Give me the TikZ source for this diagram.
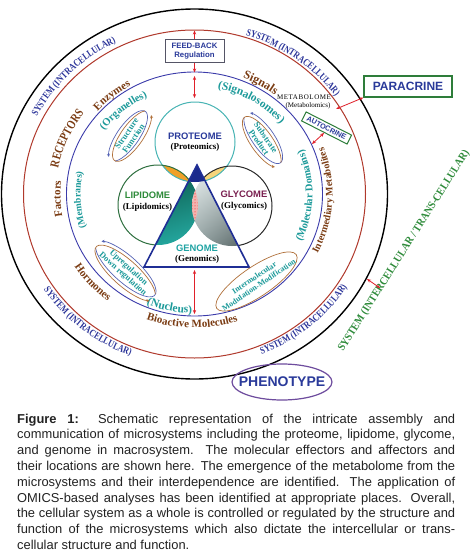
\documentclass[tikz,border=0pt]{standalone}
\usepackage{fontspec}
\setmainfont{Liberation Serif}
\newfontfamily\cser[FakeStretch=0.8]{Liberation Serif Bold}
\newfontfamily\gser[FakeStretch=0.9]{Liberation Serif Bold}
\newfontfamily\sanf{Liberation Sans}
\newfontfamily\metaf[LetterSpace=8]{Liberation Serif}
\usetikzlibrary{decorations.text,patterns,arrows.meta,calc,shadings}
\definecolor{sysblue}{HTML}{2B3499}
\definecolor{brownt}{HTML}{7A3B12}
\definecolor{tealt}{HTML}{1C9A9A}
\definecolor{navyt}{HTML}{2A3A9A}
\definecolor{redc}{HTML}{B0392C}
\definecolor{bluec}{HTML}{3B3BAA}
\definecolor{arrowred}{HTML}{E0202A}
\definecolor{greent}{HTML}{2E8B3A}
\definecolor{greenb}{HTML}{2E7D3A}
\definecolor{purp}{HTML}{6E4C9E}
\definecolor{protc}{HTML}{48B4B4}
\definecolor{lipc}{HTML}{2F7040}
\definecolor{glyc}{HTML}{2A2A2A}
\definecolor{trib}{HTML}{1F2E95}
\definecolor{lipt}{HTML}{2E8B3A}
\definecolor{glyt}{HTML}{7A2050}
\definecolor{genc}{HTML}{1FA3A3}
\definecolor{orangef}{HTML}{F0A028}
\definecolor{yellowf}{HTML}{F6D47A}
\definecolor{pinkf}{HTML}{F2B4B0}
\definecolor{navyf}{HTML}{1B2A8C}
\definecolor{capc}{HTML}{222222}
\definecolor{cycb}{HTML}{5563B5}
\definecolor{cycr}{HTML}{B0703A}
\definecolor{fbc}{HTML}{555566}
\definecolor{tUL}{HTML}{084637}
\definecolor{tUR}{HTML}{0C5F50}
\definecolor{tLL}{HTML}{1C968E}
\definecolor{tLR}{HTML}{28B0A8}
\definecolor{gUL}{HTML}{F0F6F6}
\definecolor{gUR}{HTML}{BECDCD}
\definecolor{gLL}{HTML}{96A5A5}
\definecolor{gLR}{HTML}{374444}

\newcommand\fSys{\color{sysblue}\cser\fontsize{10}{10}\selectfont}
\newcommand\fRec{\color{brownt}\cser\fontsize{12.5}{13}\selectfont}
\newcommand\fBr{\color{brownt}\bfseries\fontsize{11}{12}\selectfont}
\newcommand\fBrL{\color{brownt}\bfseries\fontsize{12}{13}\selectfont}
\newcommand\fBrS{\color{brownt}\bfseries\fontsize{10}{11}\selectfont}
\newcommand\fTe{\color{tealt}\bfseries\fontsize{10.5}{11}\selectfont}
\newcommand\fTeS{\color{tealt}\bfseries\fontsize{9.7}{10}\selectfont}
\newcommand\fTeL{\color{tealt}\bfseries\fontsize{11.5}{12}\selectfont}

\newcommand\arclab[5]{%
 \pgfmathsetmacro\ryy{0.955*#2}%
 \path[decorate,decoration={text along path,text align=center,text={|#1|#5}}]
  ($(C)+(#3:#2 and \ryy)$) arc[start angle=#3,end angle=#4,x radius=#2,y radius=\ryy];}

\newcommand\cyc[9]{%
 \begin{scope}[shift={(#2,-#3)},rotate=#4]
  \draw[cycb,line width=0.7,-{Stealth[length=3pt,width=3pt]}] ($(-1,1.6)+(200:#5 and #6)$) arc[start angle=200,end angle=520,x radius=#5,y radius=#6];
  \draw[cycr,line width=0.7,-{Stealth[length=3pt,width=3pt]}] ($(1,-1.6)+(20:#5 and #6)$) arc[start angle=20,end angle=340,x radius=#5,y radius=#6];
 \end{scope}
 \node[rotate=#4,align=center,inner sep=0,text=tealt,font=\bfseries\fontsize{#9}{#9}\selectfont] (#1) at (#2,-#3) {#7\\#8};}

\newcommand\jl[1]{\hbox to 438pt{#1}}

\tikzset{
 captext/.style={anchor=base west,inner sep=0,text=capc,font=\sanf\fontsize{12.9}{15}\selectfont},
 rarr/.style={arrowred,line width=0.8,{Stealth[length=4pt,width=3.2pt]}-{Stealth[length=4pt,width=3.2pt]}},
 rarrone/.style={arrowred,line width=0.8,-{Stealth[length=4pt,width=3.2pt]}},
 omic/.style={inner sep=0,font=\sanf\bfseries\fontsize{9.4}{10}\selectfont},
 omicx/.style={inner sep=0,font=\bfseries\fontsize{9}{10}\selectfont},
}

\begin{document}
\begin{tikzpicture}[x=1pt,y=1pt]
\useasboundingbox (0,0) rectangle (474,-557);
\fill[white] (0,0) rectangle (474,-557);
\coordinate (C) at (194.5,-194);

% concentric circles
\draw[black,line width=1.4] (C) ellipse [x radius=193,y radius=185];
\draw[redc,line width=1] (C) ellipse [x radius=171,y radius=164];
\draw[bluec,line width=0.9] (C) ellipse [x radius=128,y radius=122];

% central omics circles
\coordinate (P) at (195,-142);
\coordinate (L) at (158,-205);
\coordinate (G) at (232,-206);
\coordinate (A) at (197,-165);
\coordinate (B) at (144,-267);
\coordinate (D) at (249,-267);

\begin{scope}
 \clip (P) circle[radius=40];
 \fill[orangef] (L) circle[radius=40];
 \fill[yellowf] (G) circle[radius=40];
\end{scope}
\draw[protc,line width=1] (P) circle[radius=40];
\draw[lipc,line width=1] (L) circle[radius=40];
\draw[glyc,line width=1] (G) circle[radius=40];

\begin{scope}
 \clip (A)--(B)--(D)--cycle;
 \fill[white] (A)--(B)--(D)--cycle;
 \shade[upper left=tUL,upper right=tUR,lower left=tLL,lower right=tLR] (L) circle[radius=40];
 \shade[upper left=gUL,upper right=gUR,lower left=gLL,lower right=gLR] (G) circle[radius=40];
 \fill[navyf] (P) circle[radius=40];
 \begin{scope}
  \clip (L) circle[radius=40];
  \fill[pinkf] (G) circle[radius=40];
  \fill[pattern=dots,pattern color=red] (G) circle[radius=40];
 \end{scope}
\end{scope}
\draw[trib,line width=1.6] (A)--(B)--(D)--cycle;

\node[omic,text=navyt] (prot) at (195,-136) {PROTEOME};
\node[omicx] (protx) at (195,-147) {(Proteomics)};
\node[omic,text=lipt] (lip) at (147.5,-195) {LIPIDOME};
\node[omicx] (lipx) at (147.5,-207) {(Lipidomics)};
\node[omic,text=glyt] (gly) at (244,-194) {GLYCOME};
\node[omicx] (glyx) at (244,-206) {(Glycomics)};
\node[omic,text=genc] (gen) at (197,-248) {GENOME};
\node[omicx] (genx) at (197,-259.5) {(Genomics)};

% arc labels
\arclab{\fSys}{177}{175}{95}{SYSTEM (INTRACELLULAR)}
\arclab{\fSys}{174}{94}{14}{SYSTEM (INTRACELLULAR)}
\arclab{\fSys}{181}{191}{271}{SYSTEM (INTRACELLULAR)}
\arclab{\fSys}{181}{270}{350}{SYSTEM (INTRACELLULAR)}
\arclab{\fRec}{139}{196}{116}{RECEPTORS}
\arclab{\fBr}{134}{212}{152}{Factors}
\arclab{\fTeS}{114}{213}{153}{(Membranes)}
\arclab{\fBr}{130}{159}{99}{Enzymes}
\arclab{\fTe}{112}{160}{99}{(Organelles)}
\arclab{\fBrL}{131}{90}{30}{Signals}
\arclab{\fTeL}{113}{99}{19}{(Signalosomes)}
\arclab{\fBr}{142}{192}{252}{Hormones}
\arclab{\fTeL}{125}{228}{288}{(Nucleus)}
\arclab{\fBr}{140}{229}{309}{Bioactive Molecules}
\arclab{\fTe}{118}{-41}{39}{(Molecular Domains)}
\arclab{\fBrS}{138}{-43}{37}{Intermediary Metabolites}

% metabolome
\node[inner sep=0,font=\metaf\fontsize{7}{8}\selectfont] (meta) at (304,-97) {METABOLOME};
\node[inner sep=0,font=\fontsize{7}{8}\selectfont] (metax) at (308,-106) {(Metabolomics)};

% cycles
\cyc{sf}{130}{136}{55}{30}{11}{Structure}{Function}{8.5}
\cyc{sp}{262.5}{140}{-55}{30}{11}{Substrate}{Product}{8.5}
\cyc{ud}{125.5}{271}{-42}{39}{13}{Upregulation}{Down regulation}{8.5}
\draw[cycr,line width=0.7,rotate around={34:(256.5,-281.5)}] (256.5,-281.5) ellipse [x radius=48,y radius=15];
\node[rotate=34,align=center,inner sep=0,text=tealt,font=\bfseries\fontsize{8}{8.5}\selectfont] (im) at (256.5,-281.5) {Intermolecular\\Modulation-Modification};

% boxes
\node[draw=fbc,line width=0.8,fill=white,minimum width=59,minimum height=23.4,inner sep=0,align=center,
      text=navyt,font=\sanf\bfseries\fontsize{7.8}{9}\selectfont] (fb) at (194.5,-51) {FEED-BACK\\Regulation};
\node[draw=greenb,line width=1.2,fill=white,minimum width=88,minimum height=21,inner sep=0,
      text=navyt,font=\sanf\bfseries\fontsize{12}{13}\selectfont] (par) at (408,-86.5) {PARACRINE};
\node[draw=greenb,line width=1,fill=white,rotate=-27,minimum width=51,minimum height=10,inner sep=0,
      text=navyt,font=\sanf\bfseries\fontsize{7.3}{8}\selectfont] (auto) at (326.6,-128) {AUTOCRINE};
\node[inner sep=0,text=navyt,font=\sanf\bfseries\fontsize{14}{15}\selectfont] (ph) at (282,-382) {PHENOTYPE};
\draw[purp,line width=1.2] (ph.center) ellipse [x radius=50,y radius=18];
\node[inner sep=0,rotate=57.6,text=greent,font=\gser\fontsize{11}{12}\selectfont] (inter) at (404,-251) {SYSTEM (INTERCELLULAR / TRANS-CELLULAR)};

% red arrows
\coordinate (redtop) at (194.5,-30.5);
\coordinate (bluetop) at (194.5,-72.5);
\coordinate (fbd1) at (194.5,-76);
\coordinate (fbd2) at (194.5,-98);
\coordinate (gb1) at (194.5,-270);
\coordinate (gb2) at (194.5,-314);
\coordinate (parA) at (336,-109);
\coordinate (autA) at (312,-144);
\coordinate (intA) at (367,-279);
\coordinate (intB) at (380,-288);
\draw[rarrone] (fb.north) -- (redtop);
\draw[rarrone] (fb.south) -- (bluetop);
\draw[rarr] (fbd1) -- (fbd2);
\draw[rarr] (gb1) -- (gb2);
\draw[rarr] (par.south west) -- (parA);
\draw[rarr] (auto.south) -- (autA);
\draw[rarr] (intA) -- (intB);

% caption
\node[captext] (c1) at (17,-423) {\jl{\textbf{Figure 1:} Schematic representation of the intricate assembly and}};
\node[captext] (c2) at (17,-438.8) {\jl{communication of microsystems including the proteome, lipidome, glycome,}};
\node[captext] (c3) at (17,-454.6) {\jl{and genome in macrosystem. The molecular effectors and affectors and}};
\node[captext] (c4) at (17,-470.4) {\jl{their locations are shown here. The emergence of the metabolome from the}};
\node[captext] (c5) at (17,-486.2) {\jl{microsystems and their interdependence are identified. The application of}};
\node[captext] (c6) at (17,-502) {\jl{OMICS-based analyses has been identified at appropriate places. Overall,}};
\node[captext] (c7) at (17,-517.8) {\jl{the cellular system as a whole is controlled or regulated by the structure and}};
\node[captext] (c8) at (17,-533.6) {\jl{function of the microsystems which also dictate the intercellular or trans-}};
\node[captext] (c9) at (17,-549.4) {cellular structure and function.};
\end{tikzpicture}
\end{document}
